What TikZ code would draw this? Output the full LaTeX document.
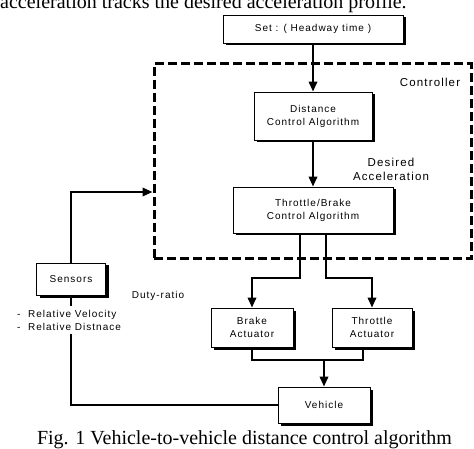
\documentclass[tikz,border=0pt]{standalone}
\usepackage{fontspec}
\setmainfont{Liberation Serif}
\newfontfamily\boxfont[LetterSpace=10]{Liberation Sans}
\usetikzlibrary{arrows.meta,shadows}
\begin{document}
\begin{tikzpicture}[x=1pt,y=-1pt,
  blk/.style={draw=black,line width=0.9pt,fill=white,inner sep=0pt,align=center,
    font=\boxfont\fontsize{10}{13}\selectfont,
    drop shadow={shadow xshift=3pt,shadow yshift=-2.5pt,fill=black,opacity=1}},
  conn/.style={line width=2pt},
  arr/.style={conn,-{Triangle[length=10pt,width=8.5pt]}},
  lbl/.style={inner sep=0pt,font=\boxfont\fontsize{10}{13}\selectfont},
  biglbl/.style={inner sep=0pt,align=center,font=\boxfont\fontsize{11.5}{14}\selectfont},
  captext/.style={inner sep=0pt,font=\fontsize{20}{22}\selectfont}
]
\useasboundingbox (0,0) rectangle (474,449);
\fill[white] (0,0) rectangle (474,449);
\begin{scope}
\clip (0,0) rectangle (474,449);
\node[captext,anchor=base west] (toptext) at (0,9) {acceleration tracks the desired acceleration profile.};
\end{scope}
% controller dashed region
\node[draw=black,line width=3pt,dash pattern=on 9pt off 4pt,minimum width=317pt,minimum height=195pt,inner sep=0pt] (ctrl) at (312.5,161.5) {};
\node[biglbl] (ctrllbl) at (430,82) {Controller};
% blocks
\node[blk,minimum width=180pt,minimum height=28pt] (set) at (313,29) {Set : ( Headway time )};
\node[blk,minimum width=118pt,minimum height=48pt] (dist) at (313,116) {Distance\\Control Algorithm};
\node[blk,minimum width=160pt,minimum height=46pt] (tb) at (313,210) {Throttle/Brake\\Control Algorithm};
\node[blk,minimum width=82pt,minimum height=39pt] (brake) at (252,327.5) {Brake\\Actuator};
\node[blk,minimum width=80pt,minimum height=39pt] (thr) at (372,327.5) {Throttle\\Actuator};
\node[blk,minimum width=92pt,minimum height=36pt] (veh) at (324,405) {Vehicle};
\node[blk,minimum width=69pt,minimum height=32pt] (sens) at (71,279) {Sensors};
% labels
\node[biglbl] (desacc) at (391,169) {Desired\\Acceleration};
\node[lbl] (duty) at (158,296) {Duty-ratio};
% connectors
\draw[arr] (set.south) -- (dist.north);
\draw[arr] (dist.south) -- (tb.north);
\draw[arr] ([xshift=-13pt]tb.south) -- ++(0,45) -| (brake.north);
\draw[arr] ([xshift=13pt]tb.south) -- ++(0,45) -| (thr.north);
\coordinate (merge) at (324,360);
\draw[conn] (brake.south) |- (merge) -| ([xshift=-9pt]thr.south);
\draw[arr] (merge) -- (veh.north);
\draw[conn] (veh.west) -| (sens.south);
\draw[arr] (sens.north) |- (ctrl.west |- 0,192);
\node[lbl,align=left,fill=white,inner ysep=4pt,anchor=west] (rel) at (17,320) {-\ \ Relative Velocity\\-\ \ Relative Distnace};
\node[captext,anchor=base] (caption) at (244.5,444) {Fig. 1 Vehicle-to-vehicle distance control algorithm};
\end{tikzpicture}
\end{document}
